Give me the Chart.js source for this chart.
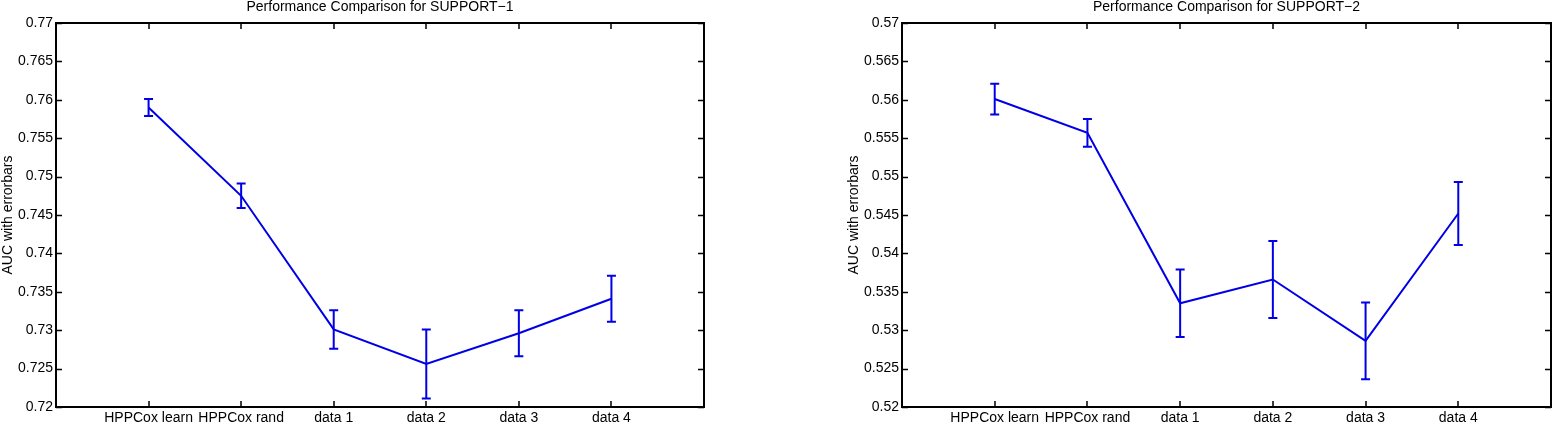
<!DOCTYPE html>
<html>
<head>
<meta charset="utf-8">
<script src="https://cdn.jsdelivr.net/npm/chart.js@4.4.0/dist/chart.umd.min.js"></script>
<style>
  body { margin: 0; background: #fff; }
  .wrap { position: absolute; top: 0; width: 777px; height: 425px; }
</style>
</head>
<body>
<div class="wrap" style="left:0"><canvas id="chart1" width="777" height="425"></canvas></div>
<div class="wrap" style="left:777px"><canvas id="chart2" width="777" height="425"></canvas></div>
<script>
// Data
const categories = ["HPPCox learn", "HPPCox rand", "data 1", "data 2", "data 3", "data 4"];

const support1Auc = [0.7590, 0.7475, 0.7301, 0.7256, 0.7296, 0.7341];
const support1Err = [0.0011, 0.0016, 0.0025, 0.0045, 0.0030, 0.0030];

const support2Auc = [0.5601, 0.5557, 0.5335, 0.5366, 0.5286, 0.5452];
const support2Err = [0.0020, 0.0018, 0.0044, 0.0050, 0.0050, 0.0041];

const support1Range = [0.72, 0.77];
const support2Range = [0.52, 0.57];
const yStep = 0.005;

const FONT = "'Liberation Sans', Arial, sans-serif";
const LINE_COLOR = "rgb(0, 0, 230)";

// error bars, box frame, inward ticks, title and y label
const matlabLook = {
    id: 'matlabLook',
    afterDatasetsDraw(chart, args, opts) {
        const ctx = chart.ctx;
        const xs = chart.scales.x, ys = chart.scales.y;
        ctx.save();
        ctx.strokeStyle = LINE_COLOR;
        ctx.lineWidth = 2;
        opts.values.forEach((v, i) => {
            const px = xs.getPixelForValue(i + 1);
            const top = ys.getPixelForValue(v + opts.errors[i]);
            const bot = ys.getPixelForValue(v - opts.errors[i]);
            ctx.beginPath();
            ctx.moveTo(px, top); ctx.lineTo(px, bot);
            ctx.moveTo(px - 4.5, top); ctx.lineTo(px + 4.5, top);
            ctx.moveTo(px - 4.5, bot); ctx.lineTo(px + 4.5, bot);
            ctx.stroke();
        });
        ctx.restore();
    },
    afterDraw(chart, args, opts) {
        const ctx = chart.ctx;
        const a = chart.chartArea;
        const xs = chart.scales.x, ys = chart.scales.y;
        ctx.save();
        ctx.strokeStyle = '#000';
        ctx.lineWidth = 2;
        ctx.strokeRect(a.left, a.top, a.right - a.left, a.bottom - a.top);
        ctx.lineWidth = 1.5;
        ctx.beginPath();
        ys.ticks.forEach(t => {
            const py = Math.round(ys.getPixelForValue(t.value)) + 0.5;
            ctx.moveTo(a.left, py); ctx.lineTo(a.left + 6, py);
            ctx.moveTo(a.right, py); ctx.lineTo(a.right - 6, py);
        });
        categories.forEach((c, i) => {
            const px = Math.round(xs.getPixelForValue(i + 1));
            ctx.moveTo(px, a.bottom); ctx.lineTo(px, a.bottom - 6);
            ctx.moveTo(px, a.top); ctx.lineTo(px, a.top + 6);
        });
        ctx.stroke();

        ctx.fillStyle = '#000';
        ctx.font = '14px ' + FONT;
        ctx.textAlign = 'center';
        ctx.textBaseline = 'middle';
        ctx.fillText(opts.title, (a.left + a.right) / 2, 7);

        ctx.translate(a.left - 48, (a.top + a.bottom) / 2);
        ctx.rotate(-Math.PI / 2);
        ctx.fillText('AUC with errorbars', 0, 0);
        ctx.restore();
    }
};

function makeChart(id, title, values, errors, range, padLeft, padRight) {
    return new Chart(document.getElementById(id), {
        type: 'line',
        data: {
            datasets: [{
                data: values.map((v, i) => ({ x: i + 1, y: v })),
                borderColor: LINE_COLOR,
                borderWidth: 2,
                pointRadius: 0,
                tension: 0,
                fill: false
            }]
        },
        options: {
            responsive: false,
            devicePixelRatio: 1,
            animation: false,
            events: [],
            layout: { padding: { left: padLeft, right: padRight, top: 23, bottom: 0 } },
            plugins: {
                legend: { display: false },
                title: { display: false },
                tooltip: { enabled: false },
                matlabLook: { title: title, values: values, errors: errors }
            },
            scales: {
                x: {
                    type: 'linear',
                    min: 0,
                    max: 7,
                    grid: { display: false, drawTicks: false },
                    border: { display: false },
                    afterFit: s => { s.height = 18; },
                    afterBuildTicks: s => { s.ticks = categories.map((c, i) => ({ value: i + 1 })); },
                    ticks: {
                        autoSkip: false,
                        maxRotation: 0,
                        padding: 3,
                        color: '#000',
                        font: { family: FONT, size: 14 },
                        callback: v => categories[v - 1] || ''
                    }
                },
                y: {
                    min: range[0],
                    max: range[1],
                    grid: { display: false, drawTicks: false },
                    border: { display: false },
                    afterFit: s => { s.width = 56; },
                    ticks: {
                        stepSize: yStep,
                        padding: 3,
                        color: '#000',
                        font: { family: FONT, size: 14 },
                        callback: v => String(parseFloat(v.toFixed(3)))
                    }
                }
            }
        },
        plugins: [matlabLook]
    });
}

makeChart('chart1', 'Performance Comparison for SUPPORT\u22121', support1Auc, support1Err, support1Range, 0, 73);
makeChart('chart2', 'Performance Comparison for SUPPORT\u22122', support2Auc, support2Err, support2Range, 69, 3);
</script>
</body>
</html>
